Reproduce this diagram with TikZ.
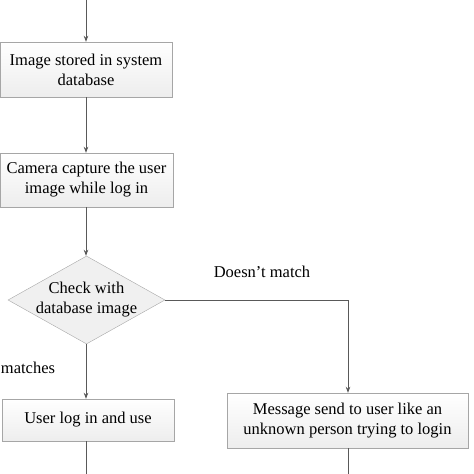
\documentclass[tikz,border=0pt]{standalone}
\usepackage{fontspec}
\setmainfont{Liberation Serif}
\usetikzlibrary{shapes.geometric,arrows.meta}
\begin{document}
\begin{tikzpicture}[x=1pt,y=-1pt,
  font=\fontsize{16.5}{20}\selectfont,
  procbox/.style={draw=gray!70, top color=white, bottom color=gray!14, align=center, inner sep=0pt},
  decbox/.style={draw=gray!70, fill=gray!12, diamond, aspect=1.78, align=center, inner sep=-3pt, minimum width=157pt, minimum height=88pt},
  conn/.style={draw=black!65, line width=0.7pt, -{Stealth[length=6pt,width=4.5pt]}},
  plain/.style={draw=black!65, line width=0.7pt},
  lbl/.style={inner sep=0pt}
]
\useasboundingbox (0,0) rectangle (474,474);
\coordinate (top) at (86,0);
\node[procbox, minimum width=172pt, minimum height=55pt] (b1) at (86,69.5) {Image stored in system\\database};
\node[procbox, minimum width=173pt, minimum height=54pt] (b2) at (86.5,180) {Camera capture the user\\image while log in};
\node[decbox] (d) at (86.5,300) {Check with\\database image};
\node[procbox, minimum width=172pt, minimum height=42pt] (b3) at (88,420) {User log in and use};
\node[procbox, minimum width=241pt, minimum height=55pt] (b4) at (347.5,420.5) {Message send to user like an\\unknown person trying to login};
\coordinate (bend) at (348,300);
\coordinate (end3) at (86,474);
\coordinate (end4) at (348,474);
\node[lbl] (nm) at (262,272) {Doesn't match};
\node[lbl] (m) at (28,368) {matches};
\draw[conn] (top) -- (b1.north -| top);
\draw[conn] (b1.south -| top) -- (b2.north -| top);
\draw[conn] (b2.south -| top) -- (d.north -| top);
\draw[conn] (d.south -| top) -- (b3.north -| top);
\draw[conn] (d.east) -- (bend) -- (b4.north -| bend);
\draw[plain] (b3.south -| end3) -- (end3);
\draw[plain] (b4.south -| end4) -- (end4);
\end{tikzpicture}
\end{document}
